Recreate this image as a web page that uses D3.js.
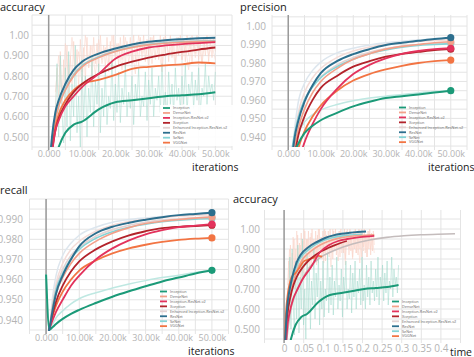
<!DOCTYPE html>
<html><head><meta charset="utf-8">
<script src="https://cdn.jsdelivr.net/npm/d3@7"></script>
<style>
html,body{margin:0;padding:0;background:#fff;}
svg{display:block;font-family:"Open Sans",sans-serif;}
</style></head>
<body><svg id="c" width="474" height="357"></svg>
<script>
// ---------------- DATA ----------------
const seriesNames = ["Inception","DenseNet","Inception-ResNet-v2","Xception","Enhanced  Inception-ResNet-v2","ResNet","SeNet","VGGNet"];
const seriesColors = ["#1b9a78","#f3a08a","#e3325c","#b3232b","#e3d2d2","#2d6f8e","#86d4d6","#f27443"];
const iterations = [0,1000,2000,3000,5000,7500,10000,15000,20000,25000,30000,35000,40000,45000,50000];

// accuracy (smoothed) per series
const accInception  = [0.20,0.33,0.40,0.45,0.52,0.56,0.575,0.635,0.67,0.68,0.69,0.70,0.705,0.71,0.72];
const accDenseNet   = [0.30,0.46,0.58,0.65,0.73,0.80,0.845,0.89,0.92,0.94,0.953,0.961,0.966,0.969,0.971];
const accIRv2       = [0.30,0.42,0.53,0.58,0.65,0.70,0.745,0.81,0.885,0.92,0.94,0.95,0.957,0.962,0.966];
const accXception   = [0.30,0.43,0.53,0.59,0.66,0.72,0.76,0.81,0.845,0.87,0.89,0.905,0.918,0.93,0.94];
const accEnhanced   = [0.30,0.48,0.60,0.66,0.74,0.81,0.85,0.895,0.925,0.945,0.958,0.966,0.971,0.974,0.976];
const accResNet     = [0.30,0.50,0.62,0.68,0.76,0.83,0.87,0.91,0.935,0.955,0.968,0.976,0.981,0.985,0.988];
const accSeNet      = [0.30,0.47,0.59,0.655,0.735,0.805,0.85,0.893,0.922,0.942,0.955,0.963,0.968,0.971,0.973];
const accVGGNet     = [0.30,0.45,0.55,0.61,0.68,0.73,0.76,0.78,0.805,0.835,0.845,0.852,0.857,0.866,0.862];

// precision per series
const precInception = [0.92,0.925,0.932,0.936,0.942,0.946,0.949,0.953,0.9565,0.959,0.961,0.962,0.963,0.964,0.965];
const precDenseNet  = [0.89,0.92,0.935,0.944,0.955,0.964,0.970,0.977,0.982,0.985,0.9875,0.989,0.990,0.991,0.9915];
const precIRv2      = [0.88,0.90,0.915,0.925,0.937,0.947,0.955,0.966,0.974,0.979,0.9825,0.985,0.9865,0.9875,0.988];
const precXception  = [0.89,0.915,0.93,0.94,0.951,0.96,0.9665,0.973,0.978,0.981,0.9834,0.985,0.986,0.987,0.9875];
const precEnhanced  = [0.90,0.925,0.94,0.95,0.96,0.968,0.9725,0.979,0.983,0.9858,0.9878,0.9892,0.990,0.9906,0.991];
const precResNet    = [0.90,0.925,0.94,0.948,0.959,0.968,0.9745,0.981,0.9848,0.9875,0.9897,0.991,0.992,0.993,0.9937];
const precSeNet     = [0.90,0.93,0.942,0.95,0.96,0.967,0.972,0.978,0.982,0.985,0.987,0.9885,0.9895,0.990,0.9905];
const precVGGNet    = [0.89,0.91,0.925,0.933,0.943,0.951,0.957,0.965,0.9705,0.974,0.9765,0.9785,0.980,0.981,0.9816];
// faint (raw) precision traces
const precFaintA    = [0.90,0.925,0.945,0.958,0.969,0.976,0.9805,0.9855,0.988,0.9898,0.991,0.9918,0.9924,0.9928,0.993];
const precFaintB    = [0.90,0.92,0.94,0.952,0.964,0.972,0.977,0.983,0.9865,0.9887,0.990,0.991,0.9917,0.9922,0.9926];
const precFaintInc  = [0.92,0.93,0.937,0.942,0.948,0.952,0.9545,0.9575,0.9595,0.961,0.962,0.963,0.9638,0.9645,0.965];

// recall per series
const recInception  = [0.9625,0.9352,0.9365,0.938,0.9405,0.943,0.945,0.9484,0.9515,0.9542,0.9567,0.9591,0.961,0.963,0.9646];
const recDenseNet   = [0.93,0.9355,0.946,0.953,0.961,0.968,0.973,0.979,0.983,0.9858,0.9878,0.989,0.9898,0.9905,0.991];
const recIRv2       = [0.93,0.9355,0.940,0.944,0.950,0.957,0.962,0.970,0.9755,0.9795,0.9825,0.9845,0.986,0.9868,0.9875];
const recXception   = [0.93,0.9355,0.943,0.949,0.957,0.964,0.969,0.975,0.979,0.982,0.984,0.9855,0.9862,0.9866,0.987];
const recEnhanced   = [0.93,0.9355,0.948,0.956,0.965,0.972,0.976,0.9815,0.9848,0.987,0.9885,0.9895,0.9902,0.9907,0.991];
const recResNet     = [0.93,0.9355,0.945,0.953,0.962,0.970,0.9765,0.983,0.9862,0.9882,0.9897,0.991,0.992,0.9926,0.9932];
const recSeNet      = [0.93,0.9355,0.947,0.955,0.963,0.9705,0.975,0.9805,0.9838,0.986,0.9875,0.9887,0.9895,0.990,0.9903];
const recVGGNet     = [0.93,0.9355,0.942,0.947,0.954,0.960,0.9645,0.9695,0.973,0.9755,0.9773,0.9787,0.9797,0.9803,0.9807];
const recFaintA     = [0.93,0.9355,0.952,0.962,0.972,0.978,0.982,0.986,0.9885,0.9898,0.9906,0.9913,0.9918,0.9922,0.9925];
const recFaintB     = [0.93,0.9355,0.949,0.958,0.968,0.975,0.979,0.984,0.987,0.9888,0.990,0.9908,0.9914,0.9919,0.9922];
const recFaintInc   = [0.9625,0.9352,0.938,0.941,0.9445,0.948,0.9505,0.9535,0.9558,0.9578,0.9595,0.961,0.9622,0.9635,0.9646];

// wall time (at 50k iterations) per series, for the accuracy-vs-time panel
const endTimes = [0.292,0.23,0.23,0.16,0.436,0.209,0.20,0.097];

// raw (unsmoothed) accuracy traces, sampled from 2k iterations
const tealRawStep = 500;
const tealRaw = [0.58,0.86,0.5,0.9,0.62,0.47,0.84,0.55,0.92,
  0.48,0.76,0.6,0.95,0.52,0.7,0.45,0.88,0.58,0.8,0.5,0.74,
  0.62,0.9,0.55,0.78,0.66,0.86,0.52,0.74,0.6,0.84,0.56,0.7,0.64,0.88,0.58,0.76,
  0.62,0.82,0.57,0.74,0.66,0.86,0.6,0.72,0.64,0.8,0.56,0.76,0.68,0.84,0.6,0.7,0.65,0.82,0.58,0.78,
  0.66,0.84,0.6,0.74,0.68,0.8,0.62,0.86,0.64,0.72,0.6,0.82,0.66,0.76,0.62,0.84,0.68,0.74,0.64,0.8,
  0.66,0.86,0.62,0.76,0.7,0.82,0.64,0.78,0.68,0.84,0.62,0.74,0.7,0.86,0.66,0.8,0.72,0.76,0.68,0.82];
const pinkRawStep = 500;
const pinkRaw = [0.62,0.84,0.7,0.92,0.66,0.88,0.74,0.95,0.7,
  0.9,0.76,0.97,0.8,0.93,0.74,0.98,0.82,0.94,0.78,0.99,0.84,
  0.95,0.8,0.99,0.86,0.96,0.82,1.0,0.88,0.95,0.84,0.99,0.86,0.97,0.83,1.0,0.9,
  0.96,0.85,0.99,0.88,1.0,0.84,0.97,0.9,0.99,0.86,1.0,0.88,0.97,0.85,0.99,0.91,1.0,0.87,0.98,0.9,
  0.99,0.86,1.0,0.9,0.97,0.88,1.0,0.85,0.99,0.91,0.98,0.87,1.0,0.89,0.97,0.86,0.99,0.9,1.0,0.88,
  0.98,0.87,1.0,0.9,0.99,0.86,0.98,0.91,1.0,0.88,0.97,0.86,0.99,0.9,1.0,0.87,0.98,0.89,0.99,0.92];
const pinkRaw2Step = 1000;
const pinkRaw2 = [0.72,0.9,0.68,0.96,0.78,0.99,0.8,0.92,0.76,1.0,0.84,0.95,0.8,0.98,0.86,0.94,0.82,1.0,0.88,0.96,
  0.83,0.99,0.87,0.95,0.81,1.0,0.89,0.96,0.84,0.99,0.88,0.94,0.82,1.0,0.9,0.96,0.85,0.99,0.88,0.95,
  0.83,1.0,0.89,0.97,0.86,0.99,0.9,0.95,0.88];

// tick labels
const iterTicks = [0,10000,20000,30000,40000,50000];
const iterTickLabels = ["0.000","10.00k","20.00k","30.00k","40.00k","50.00k"];
const timeTicks = [0,0.05,0.1,0.15,0.2,0.25,0.3,0.35,0.4];
const timeTickLabels = ["0","0.05","0.1","0.15","0.2","0.25","0.3","0.35","0.4"];
const accTicks = [0.5,0.6,0.7,0.8,0.9,1.0];
const accTickLabels = ["0.500","0.600","0.700","0.800","0.900","1.00"];
const precTicks = [0.94,0.95,0.96,0.97,0.98,0.99,1.0];
const precTickLabels = ["0.940","0.950","0.960","0.970","0.980","0.990","1.00"];
const recTicks = [0.94,0.95,0.96,0.97,0.98,0.99];
const recTickLabels = ["0.940","0.950","0.960","0.970","0.980","0.990"];

// ---------------- DRAWING ----------------
const accData  = [accInception,accDenseNet,accIRv2,accXception,accEnhanced,accResNet,accSeNet,accVGGNet];
const precData = [precInception,precDenseNet,precIRv2,precXception,precEnhanced,precResNet,precSeNet,precVGGNet];
const recData  = [recInception,recDenseNet,recIRv2,recXception,recEnhanced,recResNet,recSeNet,recVGGNet];
const drawOrder = [4,6,1,7,3,2,0,5];
const widths = [2,1.6,1.8,1.8,1.6,2,1.6,1.8];

const svg = d3.select("#c");
let clipId = 0;

function panel(cfg){
  const g = svg.append("g");
  const x = d3.scaleLinear().domain(cfg.xDomain).range(cfg.xRange);
  const y = d3.scaleLinear().domain(cfg.yDomain).range(cfg.yRange);
  const gx = d3.range(cfg.xDomain[0], cfg.xDomain[1] + cfg.xStep/2, cfg.xStep);
  const gy = d3.range(cfg.yGrid0, cfg.yDomain[1] + cfg.yStep/10, cfg.yStep);
  g.append("g").selectAll("line").data(gx).join("line")
    .attr("x1", d=>x(d)).attr("x2", d=>x(d))
    .attr("y1", cfg.yRange[1]).attr("y2", cfg.yRange[0]+3)
    .attr("stroke","#e4e4e4").attr("stroke-width",1);
  g.append("g").selectAll("line").data(gy).join("line")
    .attr("x1", cfg.xRange[0]).attr("x2", cfg.xRange[1])
    .attr("y1", d=>y(d)).attr("y2", d=>y(d))
    .attr("stroke","#e4e4e4").attr("stroke-width",1);
  const ax = g.append("g").attr("transform",`translate(0,${cfg.yRange[0]})`)
    .call(d3.axisBottom(x).tickValues(cfg.xTicks).tickFormat((d,i)=>cfg.xLabels[i]).tickSize(0).tickPadding(cfg.xPad));
  ax.select(".domain").remove();
  ax.selectAll("text").attr("fill","#b4b4b4").attr("font-size",cfg.xFont).attr("font-family","Open Sans");
  const ay = g.append("g").attr("transform",`translate(${cfg.yLabelX},0)`)
    .call(d3.axisLeft(y).tickValues(cfg.yTicks).tickFormat((d,i)=>cfg.yLabels[i]).tickSize(0).tickPadding(0));
  ay.select(".domain").remove();
  ay.selectAll("text").attr("fill","#b4b4b4").attr("font-size",10).attr("font-family","Open Sans");
  g.append("line").attr("x1",x(0)).attr("x2",x(0)).attr("y1",cfg.yRange[1]).attr("y2",cfg.yRange[0]+3)
    .attr("stroke","#9a9a9a").attr("stroke-width",1.5);
  const id = "clip"+(clipId++);
  svg.append("clipPath").attr("id",id).append("rect")
    .attr("x",cfg.xRange[0]).attr("y",cfg.yRange[1])
    .attr("width",cfg.xRange[1]-cfg.xRange[0]).attr("height",cfg.yRange[0]-cfg.yRange[1]);
  const plot = g.append("g").attr("clip-path",`url(#${id})`);
  g.append("text").attr("x",cfg.titleX).attr("y",cfg.titleY).text(cfg.title)
    .attr("font-size",11).attr("fill","#1a1a1a");
  g.append("text").attr("x",cfg.xTitleX).attr("y",cfg.xTitleY).text(cfg.xTitle)
    .attr("font-size",10.5).attr("fill","#1a1a1a");
  return {g, x, y, plot};
}

function legend(g, lx, ly, box){
  if (box) g.append("rect").attr("x",lx-3).attr("y",ly-3).attr("width",73).attr("height",41)
    .attr("fill","#fff").attr("opacity",0.9);
  seriesNames.forEach((n,i)=>{
    const yy = ly + i*4.95;
    g.append("line").attr("x1",lx).attr("x2",lx+7).attr("y1",yy).attr("y2",yy)
      .attr("stroke",seriesColors[i]).attr("stroke-width",1.8);
    g.append("text").attr("x",lx+10).attr("y",yy+1.3).text(n)
      .attr("font-size",3.8).attr("fill","#666");
  });
}

const line = (x,y,xs)=> d3.line().x((d,i)=>x(xs[i])).y(d=>y(d)).curve(d3.curveMonotoneX);
const rawLine = (x,y,start,step,scale)=> d3.line().x((d,i)=>x((start+i*step)*scale)).y(d=>y(d));

function rawTraces(p, tScale){
  p.plot.append("path").datum(pinkRaw).attr("d",rawLine(p.x,p.y,2000,pinkRawStep,tScale[1])).attr("fill","none")
    .attr("stroke","#f9cdc0").attr("stroke-width",1).attr("opacity",0.5);
  p.plot.append("path").datum(pinkRaw2).attr("d",rawLine(p.x,p.y,2000,pinkRaw2Step,tScale[2])).attr("fill","none")
    .attr("stroke","#fad6cb").attr("stroke-width",1).attr("opacity",0.55);
  p.plot.append("path").datum(tealRaw).attr("d",rawLine(p.x,p.y,2000,tealRawStep,tScale[0])).attr("fill","none")
    .attr("stroke","#9fdacc").attr("stroke-width",1).attr("opacity",0.5);
}

// ---- Panel 1: accuracy vs iterations
{
  const p = panel({xDomain:[-5000,55000], xRange:[32,232], xStep:5000, yDomain:[0.45,1.10], yRange:[147,15],
    yGrid0:0.45, yStep:0.05, xTicks:iterTicks, xLabels:iterTickLabels, xPad:4, xFont:9,
    yTicks:accTicks, yLabels:accTickLabels, yLabelX:29, title:"accuracy", titleX:0, titleY:11,
    xTitle:"iterations", xTitleX:192, xTitleY:171});
  rawTraces(p,[1,1,1]);
  drawOrder.forEach(i=>{
    p.plot.append("path").datum(accData[i]).attr("d",line(p.x,p.y,iterations)).attr("fill","none")
      .attr("stroke",seriesColors[i]).attr("stroke-width",widths[i]);
  });
  legend(p.g,163,108,true);
}

// ---- Panel 2: precision vs iterations
{
  const p = panel({xDomain:[-5000,55000], xRange:[272,467], xStep:5000, yDomain:[0.9345,1.006], yRange:[147,15],
    yGrid0:0.935, yStep:0.005, xTicks:iterTicks, xLabels:iterTickLabels, xPad:4, xFont:9,
    yTicks:precTicks, yLabels:precTickLabels, yLabelX:266, title:"precision", titleX:240, titleY:11,
    xTitle:"iterations", xTitleX:428, xTitleY:171});
  [[precFaintA,"#dde6ee"],[precFaintB,"#f4dcd8"],[precFaintInc,"#bfe8e2"]].forEach(([d,c])=>{
    p.plot.append("path").datum(d).attr("d",line(p.x,p.y,iterations)).attr("fill","none")
      .attr("stroke",c).attr("stroke-width",1.5);
  });
  drawOrder.forEach(i=>{
    p.plot.append("path").datum(precData[i]).attr("d",line(p.x,p.y,iterations)).attr("fill","none")
      .attr("stroke",seriesColors[i]).attr("stroke-width",widths[i]);
  });
  drawOrder.forEach(i=>{
    const d = precData[i];
    p.g.append("circle").attr("cx",p.x(iterations[iterations.length-1])).attr("cy",p.y(d[d.length-1]))
      .attr("r",3.6).attr("fill",seriesColors[i]);
  });
  legend(p.g,399,107.5,false);
}

// ---- Panel 3: recall vs iterations
{
  const p = panel({xDomain:[-5000,55000], xRange:[29.5,228.5], xStep:5000, yDomain:[0.9345,1.0], yRange:[331,199],
    yGrid0:0.935, yStep:0.005, xTicks:iterTicks, xLabels:iterTickLabels, xPad:4, xFont:9,
    yTicks:recTicks, yLabels:recTickLabels, yLabelX:23, title:"recall", titleX:0, titleY:194,
    xTitle:"iterations", xTitleX:188, xTitleY:355});
  [[recFaintA,"#dde6ee"],[recFaintB,"#f4dcd8"],[recFaintInc,"#bfe8e2"]].forEach(([d,c])=>{
    p.plot.append("path").datum(d).attr("d",line(p.x,p.y,iterations)).attr("fill","none")
      .attr("stroke",c).attr("stroke-width",1.5);
  });
  drawOrder.forEach(i=>{
    p.plot.append("path").datum(recData[i]).attr("d",line(p.x,p.y,iterations)).attr("fill","none")
      .attr("stroke",seriesColors[i]).attr("stroke-width",widths[i]);
  });
  drawOrder.forEach(i=>{
    const d = recData[i];
    p.g.append("circle").attr("cx",p.x(iterations[iterations.length-1])).attr("cy",p.y(d[d.length-1]))
      .attr("r",3.6).attr("fill",seriesColors[i]);
  });
  legend(p.g,160,291.5,false);
}

// ---- Panel 4: accuracy vs time
{
  const p = panel({xDomain:[-0.05,0.45], xRange:[264.5,460.5], xStep:0.05, yDomain:[0.445,1.095], yRange:[340,210],
    yGrid0:0.45, yStep:0.05, xTicks:timeTicks, xLabels:timeTickLabels, xPad:5, xFont:10,
    yTicks:accTicks, yLabels:accTickLabels, yLabelX:260, title:"accuracy", titleX:233, titleY:203,
    xTitle:"time", xTitleX:450, xTitleY:356});
  rawTraces(p,[endTimes[0]/50000,endTimes[1]/50000,endTimes[2]/50000]);
  drawOrder.forEach(i=>{
    const xs = iterations.map(v=>v/50000*endTimes[i]);
    p.plot.append("path").datum(accData[i]).attr("d",line(p.x,p.y,xs)).attr("fill","none")
      .attr("stroke", i===4 ? "#c4bcbc" : seriesColors[i]).attr("stroke-width",widths[i]);
  });
  legend(p.g,392,301.5,false);
}
</script></body></html>
